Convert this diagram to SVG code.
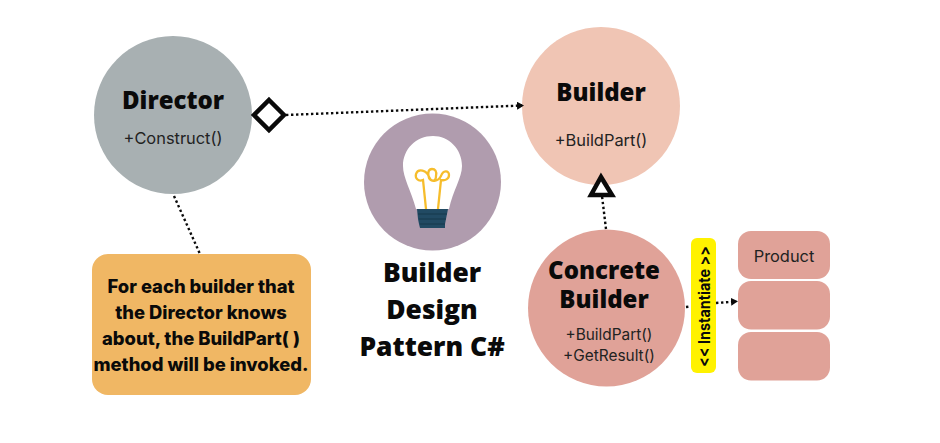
<svg xmlns="http://www.w3.org/2000/svg" width="940" height="443" viewBox="0 0 940 443">
<style>
text{fill:#0a0a0a;text-anchor:middle}
.h{font-family:"Open Sans","DejaVu Sans",sans-serif;font-weight:800;font-size:24px}
.b{font-size:26.400px}
.t{font-family:"Inter","Open Sans",sans-serif;font-weight:800;font-size:18.400px}
.m{font-family:"Inter","Liberation Sans",sans-serif;font-size:16.400px;fill:#222}
.c{font-size:15.400px}
.d{fill:none;stroke:#0a0a0a;stroke-width:2.400;stroke-dasharray:2.400 2.600}
.s{fill:#fff;stroke:#0a0a0a;stroke-width:4.500}
.p{fill:#e0a298}
.w{fill:none;stroke:#f6bd2c;stroke-width:2.300}
.r{stroke:#16384c;stroke-width:1}
</style>
<defs><marker id="a" markerWidth="8" markerHeight="8" refX="5" refY="4" orient="auto" markerUnits="userSpaceOnUse"><path d="M0 0L7 4L0 8Z" fill="#0a0a0a"/></marker></defs>
<rect width="940" height="443" fill="#fff"/>
<g id="director"><circle cx="173" cy="115" r="79" fill="#a8b0b2"/><text class="h" x="173" y="109">Director</text><text class="m" x="173" y="144">+Construct()</text></g>
<g id="note"><rect x="92" y="254" width="219" height="141" rx="16" fill="#f0b764"/>
<text class="t"><tspan x="201" y="293">For each builder that</tspan><tspan x="201" y="319">the Director knows</tspan><tspan x="201" y="345">about, the BuildPart( )</tspan><tspan x="201" y="371">method will be invoked.</tspan></text></g>
<g id="bulb"><circle cx="432.500" cy="182" r="68.500" fill="#b09cae"/>
<path d="M433 136C416 136 403 149 403 166C403 178 411 190 416 209H449C453 190 462 178 462 166C462 149 449 136 433 136Z" fill="#fff"/>
<path class="w" d="M426 209L423 180C418 182 415 178 416 174C418 168 427 170 429 177C431 182 436 182 436 176C437 171 435 169 432 169C429 169 427 172 429 178C431 182 438 182 441 176C443 170 449 170 449 175C449 179 445 181 441 180L438 209"/>
<path d="M417 209H448L447 214L446 219L445 224L445 228H420L419 224L418 219Z" fill="#214a63"/>
<path class="r" d="M418 214H447M419 219H446M420 224H445"/></g>
<g id="title"><text class="h b"><tspan x="432" y="282">Builder</tspan><tspan x="432" y="319">Design</tspan><tspan x="432" y="356">Pattern C#</tspan></text></g>
<g id="builder"><circle cx="601" cy="106" r="79" fill="#f0c5b4"/><text class="h" x="601" y="101">Builder</text><text class="m" x="601" y="146">+BuildPart()</text></g>
<g id="concrete"><circle cx="606.500" cy="308" r="78.500" class="p"/><text class="h"><tspan x="604" y="279">Concrete</tspan><tspan x="604" y="308">Builder</tspan></text><text class="m c"><tspan x="609" y="340">+BuildPart()</tspan><tspan x="609" y="361">+GetResult()</tspan></text></g>
<g id="instantiate"><rect x="691" y="238" width="25" height="135" rx="6" fill="#fff200"/><text transform="translate(709.500 306.500) rotate(-90)" textLength="121" lengthAdjust="spacingAndGlyphs" style="font-family:'Inter','Liberation Sans',sans-serif;font-weight:700;font-size:16px">&lt;&lt; Instantiate &gt;&gt;</text></g>
<g id="product"><rect x="738" y="231" width="92" height="48" rx="13" class="p"/><text class="m" x="784" y="262">Product</text></g>
<g id="part2"><rect x="738" y="281" width="92" height="48.500" rx="13" class="p"/></g>
<g id="part3"><rect x="738" y="332" width="92" height="48.500" rx="13" class="p"/></g>
<g id="connectors">
<path class="d" d="M286 115L522 105.500" marker-end="url(#a)"/>
<path class="d" d="M174 196L200 254"/>
<path class="d" d="M606 229L602 196"/>
<path class="d" d="M686 307L690 306.500M716 303L736 301.500" marker-end="url(#a)"/>
<path class="s" d="M269 100L284 115L269 130L254 115Z"/>
<path class="s" d="M601 177L612 195H591Z"/>
</g>
</svg>
